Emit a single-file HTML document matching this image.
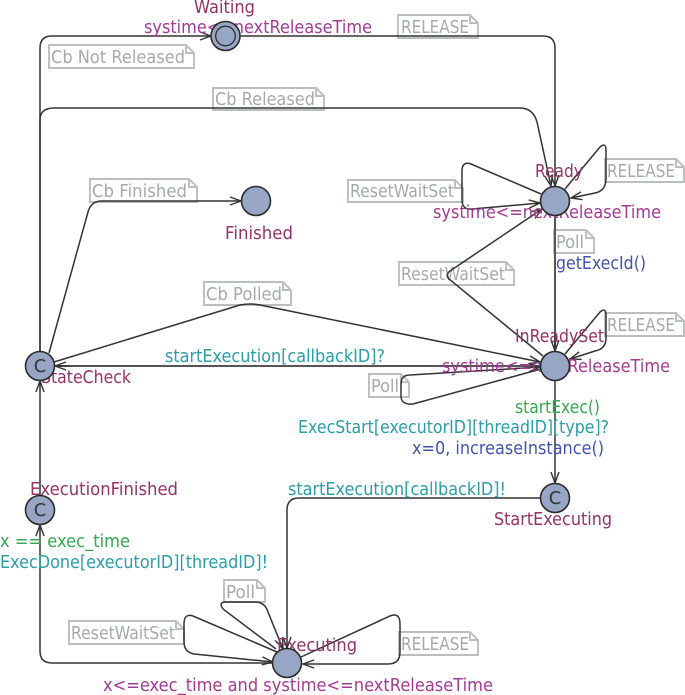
<!DOCTYPE html>
<html>
<head>
<meta charset="utf-8">
<style>
html,body{margin:0;padding:0;background:#fff;width:685px;height:695px;overflow:hidden}
svg{display:block;filter:blur(.35px)}
text{font-family:"DejaVu Sans","Liberation Sans",sans-serif;font-size:17.5px}
.n{font-size:17.5px;fill:#a5a9ac}
.loc{fill:#933366}
.inv{fill:#a23b93}
.grd{fill:#35a852}
.syn{fill:#2b9ca8}
.upd{fill:#4352aa}
.note{fill:#fff;stroke:#babdc1;stroke-width:1.9}
.e{fill:none;stroke:#333;stroke-width:1.5;marker-end:url(#a)}
.t{fill:none;stroke:#555;stroke-width:2}
.node{fill:#98a6c6;stroke:#2c2c2c;stroke-width:1.6}
.c{font-size:18px;fill:#333;text-anchor:middle}
</style>
</head>
<body>
<svg width="685" height="695" viewBox="0 0 685 695" xmlns="http://www.w3.org/2000/svg">
<defs>
<marker id="a" markerUnits="userSpaceOnUse" viewBox="0 0 13 12" refX="12" refY="6" markerWidth="13" markerHeight="12" orient="auto">
<path d="M1 2 L12 6 L1 10" fill="none" stroke="#333" stroke-width="1.4"/>
</marker>
</defs>

<!-- notes -->
<g>
<path class="note" d="M49 45H186L194 53V68H49Z M186 45V53H194"/>
<path class="note" d="M213 88H316L324 96V110H213Z M316 88V96H324"/>
<path class="note" d="M90 179H189L197 187V202H90Z M189 179V187H197"/>
<path class="note" d="M398 15H470L478 23V38H398Z M470 15V23H478"/>
<path class="note" d="M605 159H676L684 167V182H605Z M676 159V167H684"/>
<path class="note" d="M348 180H455L463 188V202H348Z M455 180V188H463"/>
<path class="note" d="M554 230H586L594 238V253H554Z M586 230V238H594"/>
<path class="note" d="M399 262H506L514 270V285H399Z M506 262V270H514"/>
<path class="note" d="M605 313H676L684 321V336H605Z M676 313V321H684"/>
<path class="note" d="M369 374H401L409 382V397H369Z M401 374V382H409"/>
<path class="note" d="M204 282H283L291 290V305H204Z M283 282V290H291"/>
<path class="note" d="M224 580H257L265 588V602H224Z M257 580V588H265"/>
<path class="note" d="M69 621H176L184 629V644H69Z M176 621V629H184"/>
<path class="note" d="M399 632H470L478 640V655H399Z M470 632V640H478"/>
</g>
<g class="n">
<text class="n" x="51" y="63" textLength="134" lengthAdjust="spacingAndGlyphs">Cb Not Released</text>
<text class="n" x="215" y="105" textLength="100" lengthAdjust="spacingAndGlyphs">Cb Released</text>
<text class="n" x="92" y="197" textLength="95" lengthAdjust="spacingAndGlyphs">Cb Finished</text>
<text class="n" x="401" y="33" textLength="68" lengthAdjust="spacingAndGlyphs">RELEASE</text>
<text class="n" x="607" y="177" textLength="68" lengthAdjust="spacingAndGlyphs">RELEASE</text>
<text class="n" x="350" y="197" textLength="104" lengthAdjust="spacingAndGlyphs">ResetWaitSet</text>
<text class="n" x="556" y="248" textLength="28" lengthAdjust="spacingAndGlyphs">Poll</text>
<text class="n" x="401" y="280" textLength="104" lengthAdjust="spacingAndGlyphs">ResetWaitSet</text>
<text class="n" x="607" y="331" textLength="68" lengthAdjust="spacingAndGlyphs">RELEASE</text>
<text class="n" x="371" y="392" textLength="28" lengthAdjust="spacingAndGlyphs">Poll</text>
<text class="n" x="206" y="300" textLength="76" lengthAdjust="spacingAndGlyphs">Cb Polled</text>
<text class="n" x="226" y="598" textLength="29" lengthAdjust="spacingAndGlyphs">Poll</text>
<text class="n" x="71" y="639" textLength="104" lengthAdjust="spacingAndGlyphs">ResetWaitSet</text>
<text class="n" x="401" y="650" textLength="68" lengthAdjust="spacingAndGlyphs">RELEASE</text>
</g>

<!-- edges -->
<path class="e" d="M40 351V48Q40 36 52 36H211"/>
<path class="e" d="M240 36H543Q555 36 555 48V186"/>
<path class="e" d="M40 351V120Q40 108 54 108H520Q533 108 537 122L551 186"/>
<path class="e" d="M49 353L88 212Q91 201 102 201H241"/>
<path class="e" d="M54 362L240 305Q250 303 260 305L540 362"/>
<path class="t" d="M540 366H56"/>
<path class="e" d="M70 366H55"/>
<path class="t" d="M555 216V351"/>
<path class="e" d="M555 335V351"/>
<path class="e" d="M543 356L449 279Q445 275 450 271L542 209"/>
<path class="e" d="M541 194L471 164Q462 161 462 171V200Q462 210 472 209L540 203"/>
<path class="e" d="M565 189L600 147Q606 142 606 150V178Q606 191 595 193L571 198"/>
<path class="e" d="M565 354L600 312Q606 307 606 315V338Q606 349 595 351L570 359"/>
<path class="e" d="M541 369L413 404Q401 405 401 396V384Q401 375 410 375L540 367"/>
<path class="e" d="M555 381V483"/>
<path class="e" d="M541 498H299Q287 498 287 510V648"/>
<path class="e" d="M273 663H52Q40 663 40 651V525"/>
<path class="e" d="M40 495V381"/>
<path class="e" d="M276 649L223 609Q218 602 226 602H255Q265 602 268 612L283 649"/>
<path class="e" d="M277 652L193 616Q184 613 184 624V642Q184 652 194 654L273 662"/>
<path class="e" d="M301 657L390 616Q400 612 400 624V652Q400 664 388 664H303"/>

<!-- labels -->
<text class="loc" x="194" y="13" textLength="61" lengthAdjust="spacingAndGlyphs">Waiting</text>
<text class="inv" x="144" y="33" textLength="228" lengthAdjust="spacingAndGlyphs">systime&lt;=nextReleaseTime</text>
<text class="loc" x="225" y="239" textLength="68" lengthAdjust="spacingAndGlyphs">Finished</text>
<text class="loc" x="535" y="177" textLength="48" lengthAdjust="spacingAndGlyphs">Ready</text>
<text class="inv" x="433" y="218" textLength="228" lengthAdjust="spacingAndGlyphs">systime&lt;=nextReleaseTime</text>
<text class="upd" x="556" y="269" textLength="90" lengthAdjust="spacingAndGlyphs">getExecId()</text>
<text class="loc" x="515" y="342" textLength="89" lengthAdjust="spacingAndGlyphs">InReadySet</text>
<text class="inv" x="442" y="372" textLength="228" lengthAdjust="spacingAndGlyphs">systime&lt;=nextReleaseTime</text>
<text class="grd" x="515" y="413" textLength="85" lengthAdjust="spacingAndGlyphs">startExec()</text>
<text class="syn" x="298" y="433" textLength="311" lengthAdjust="spacingAndGlyphs">ExecStart[executorID][threadID][type]?</text>
<text class="upd" x="412" y="454" textLength="192" lengthAdjust="spacingAndGlyphs">x=0, increaseInstance()</text>
<text class="syn" x="165" y="362" textLength="220" lengthAdjust="spacingAndGlyphs">startExecution[callbackID]?</text>
<text class="loc" x="41" y="383" textLength="90" lengthAdjust="spacingAndGlyphs">StateCheck</text>
<text class="loc" x="30" y="495" textLength="148" lengthAdjust="spacingAndGlyphs">ExecutionFinished</text>
<text class="grd" x="0" y="547" textLength="130" lengthAdjust="spacingAndGlyphs">x == exec_time</text>
<text class="syn" x="0" y="568" textLength="268" lengthAdjust="spacingAndGlyphs">ExecDone[executorID][threadID]!</text>
<text class="syn" x="288" y="495" textLength="218" lengthAdjust="spacingAndGlyphs">startExecution[callbackID]!</text>
<text class="loc" x="494" y="525" textLength="118" lengthAdjust="spacingAndGlyphs">StartExecuting</text>
<text class="loc" x="277" y="651" textLength="80" lengthAdjust="spacingAndGlyphs">Executing</text>
<text class="inv" x="103" y="691" textLength="390" lengthAdjust="spacingAndGlyphs">x&lt;=exec_time and systime&lt;=nextReleaseTime</text>

<!-- nodes -->
<circle class="node" cx="225.500" cy="36" r="14.500"/>
<circle cx="225.500" cy="36" r="9.800" fill="none" stroke="#2c2c2c" stroke-width="1.300"/>
<circle class="node" cx="256" cy="201" r="14.500"/>
<circle class="node" cx="555" cy="201" r="14.500"/>
<circle class="node" cx="555" cy="366" r="14.500"/>
<circle class="node" cx="40" cy="366" r="14.500"/>
<circle class="node" cx="40" cy="510" r="14.500"/>
<circle class="node" cx="555" cy="498" r="14.500"/>
<circle class="node" cx="287" cy="663" r="14.500"/>
<text class="c" x="40" y="372">C</text>
<text class="c" x="40" y="516">C</text>
<text class="c" x="555" y="504">C</text>
</svg>
</body>
</html>
